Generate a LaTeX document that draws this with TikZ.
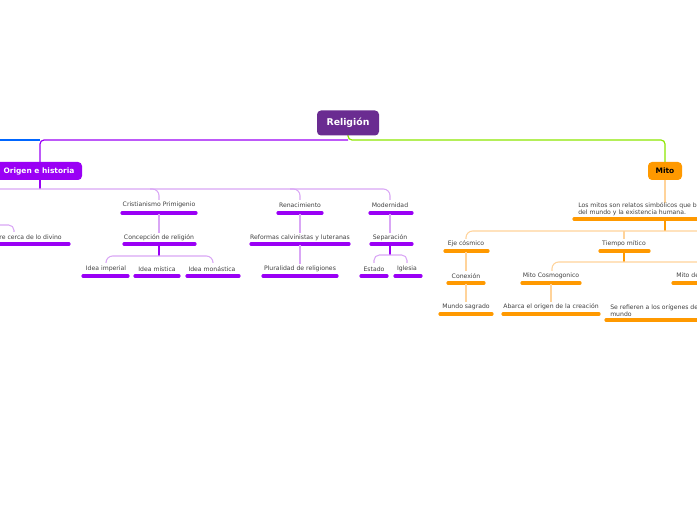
\documentclass[tikz,border=0pt]{standalone}
\usepackage{fontspec}
\setmainfont{DejaVu Sans}
\begin{document}
\begin{tikzpicture}[x=0.75pt,y=-0.75pt,
  txt/.style={font=\fontsize{4.6}{5.8}\selectfont,text=black!75,inner sep=0pt},
  ul/.style={line width=2.4pt,line cap=round}]
\definecolor{relp}{HTML}{6A2C91}
\definecolor{purp}{HTML}{9A00F5}
\definecolor{lpur}{HTML}{D9A6F5}
\definecolor{orng}{HTML}{FF9900}
\definecolor{lorg}{HTML}{FFD39A}
\definecolor{grn}{HTML}{8CE600}
\definecolor{blu}{HTML}{0066FF}
\useasboundingbox (0,0) rectangle (697,520);
\clip (0,0) rectangle (697,520);
% main branches
\draw[blu,line width=0.9pt] (0,140) -- (40,140);
\draw[purp,line width=0.9pt,rounded corners=3pt] (348,140) -- (40,140) -- (40,162);
\draw[grn,line width=0.9pt,rounded corners=3pt] (348,135) -- (348,140) -- (665,140) -- (665,162);
\node[fill=relp,rounded corners=3pt,minimum width=62*0.75pt,minimum height=25*0.75pt,text=white,font=\fontsize{7}{8}\selectfont\bfseries] (rel) at (348,123) {Religión};
\node[fill=purp,rounded corners=3pt,minimum width=86*0.75pt,minimum height=18*0.75pt,text=white,font=\fontsize{5.6}{7}\selectfont\bfseries] (ori) at (39,171) {Origen e historia};
\node[fill=orng,rounded corners=3pt,minimum width=34*0.75pt,minimum height=18*0.75pt,text=black,font=\fontsize{5.6}{7}\selectfont\bfseries] (mito) at (665,171) {Mito};
% purple subtree
\draw[purp,line width=0.9pt] (40,180) -- (40,189);
\draw[draw=lpur,line width=0.8pt,rounded corners=5pt] (0,189) -- (390,189) -- (390,200);
\draw[draw=lpur,line width=0.8pt,rounded corners=5pt] (150,189) -- (159,189) -- (159,200);
\draw[draw=lpur,line width=0.8pt,rounded corners=5pt] (290,189) -- (300,189) -- (300,200);
\draw[draw=lpur,line width=0.8pt,rounded corners=4pt] (0,225) -- (14,225) -- (14,232);
\node[txt,anchor=east] (hom) at (62,237) {El hombre cerca de lo divino};
\draw[purp,ul] (0,244) -- (69,244);
\node[txt] (cri) at (159,205) {Cristianismo Primigenio};
\draw[purp,ul] (122,213) -- (196,213);
\node[txt] (con) at (159,238) {Concepción de religión};
\draw[purp,ul] (124,244) -- (195,244);
\draw[lpur,line width=0.8pt] (159,214) -- (159,233);
\draw[purp,line width=0.8pt] (159,245) -- (159,256);
\draw[draw=lpur,line width=0.8pt,rounded corners=5pt] (106,263) -- (106,256) -- (213,256) -- (213,263);
\node[txt] (imp) at (106,269) {Idea imperial};
\draw[purp,ul] (83,276) -- (128,276);
\node[txt] (mis) at (157,269) {Idea mística};
\draw[purp,ul] (135,276) -- (179,276);
\node[txt] (mon) at (212,269) {Idea monástica};
\draw[purp,ul] (187,276) -- (239,276);
\node[txt] (ren) at (300,205) {Renacimiento};
\draw[purp,ul] (278,213) -- (322,213);
\node[txt] (ref) at (300,238) {Reformas calvinistas y luteranas};
\draw[purp,ul] (251,244) -- (349,244);
\node[txt] (plu) at (300,269) {Pluralidad de religiones};
\draw[purp,ul] (263,276) -- (337,276);
\draw[lpur,line width=0.8pt] (300,214) -- (300,233);
\draw[lpur,line width=0.8pt] (300,245) -- (300,264);
\node[txt] (mod) at (390,205) {Modernidad};
\draw[purp,ul] (370,213) -- (412,213);
\node[txt] (sep) at (390,238) {Separación};
\draw[purp,ul] (371,244) -- (412,244);
\draw[lpur,line width=0.8pt] (390,214) -- (390,233);
\draw[purp,line width=0.8pt] (390,245) -- (390,255);
\draw[draw=lpur,line width=0.8pt,rounded corners=4pt] (374,263) -- (374,255) -- (407,255) -- (407,263);
\node[txt] (est) at (374,269) {Estado};
\draw[purp,ul] (361,276) -- (387,276);
\node[txt] (igl) at (407,269) {Iglesia};
\draw[purp,ul] (395,276) -- (421,276);
% orange subtree
\draw[lorg,line width=0.8pt] (665,180) -- (665,203);
\node[txt,anchor=north west,align=left] (los) at (578,202) {Los mitos son relatos simbólicos que buscan explicar el origen\\del mundo y la existencia humana.};
\draw[orng,ul] (574,219) -- (697,219);
\draw[orng,line width=0.8pt] (665,220) -- (665,231);
\draw[draw=lorg,line width=0.8pt,rounded corners=5pt] (466,239) -- (466,231) -- (697,231);
\draw[lorg,line width=0.8pt] (624,231) -- (624,239);
\node[txt] (eje) at (466,244) {Eje cósmico};
\draw[orng,ul] (445,251) -- (488,251);
\node[txt] (con2) at (466,276) {Conexión};
\draw[orng,ul] (448,283) -- (484,283);
\node[txt] (mun) at (466,307) {Mundo sagrado};
\draw[orng,ul] (440,314) -- (492,314);
\draw[lorg,line width=0.8pt] (466,252) -- (466,271);
\draw[lorg,line width=0.8pt] (466,284) -- (466,302);
\node[txt] (tie) at (624,244) {Tiempo mítico};
\draw[orng,ul] (600,251) -- (649,251);
\draw[orng,line width=0.8pt] (624,252) -- (624,262);
\draw[draw=lorg,line width=0.8pt,rounded corners=5pt] (552,271) -- (552,262) -- (697,262);
\node[txt] (cos) at (551,276) {Mito Cosmogonico};
\draw[orng,ul] (522,283) -- (580,283);
\node[txt,anchor=west] (mde) at (676,276) {Mito de los orígenes};
\draw[orng,ul] (673,283) -- (697,283);
\draw[lorg,line width=0.8pt] (551,284) -- (551,302);
\node[txt] (aba) at (551,307) {Abarca el origen de la creación};
\draw[orng,ul] (503,314) -- (599,314);
\node[txt,anchor=north west,align=left] (sere) at (610,304) {Se refieren a los orígenes de las cosas del\\mundo};
\draw[orng,ul] (606,320) -- (697,320);
\end{tikzpicture}
\end{document}
